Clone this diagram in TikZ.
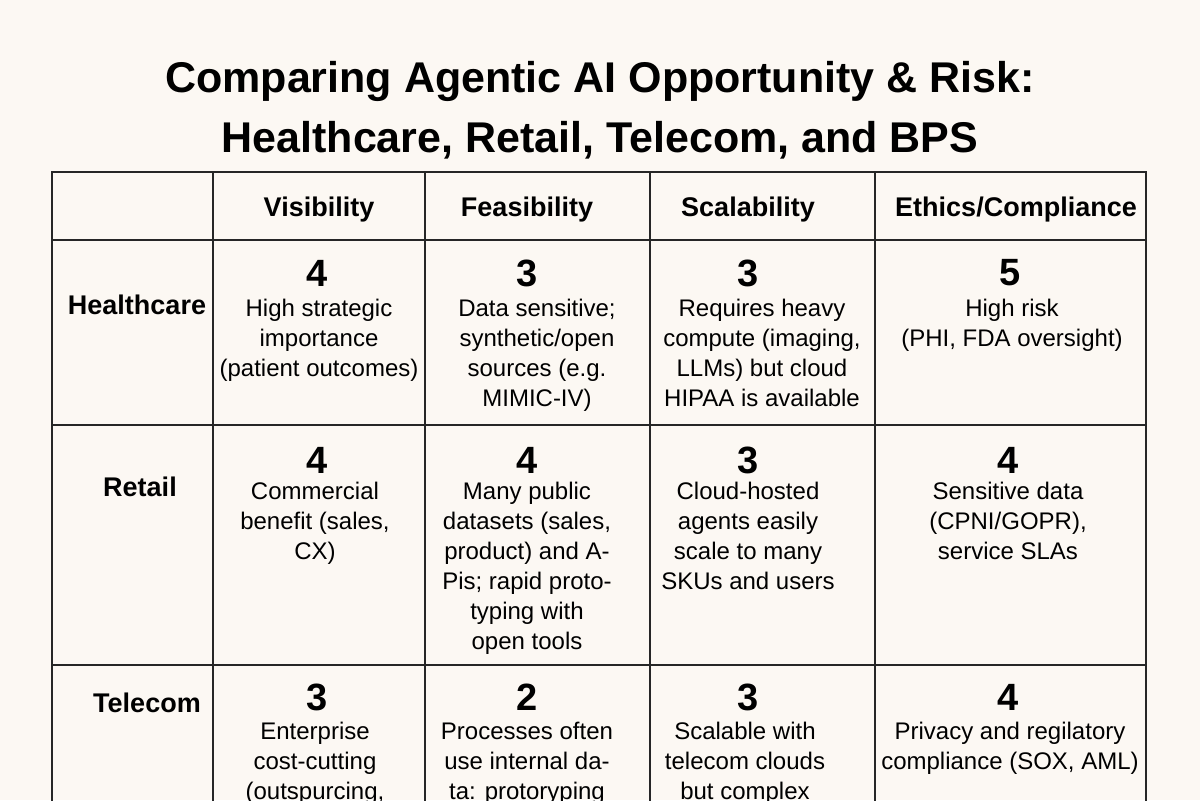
\documentclass[tikz,border=0pt]{standalone}
\usepackage{fontspec}
\setmainfont{Liberation Sans}
\definecolor{paper}{HTML}{FCF8F3}
\begin{document}
\begin{tikzpicture}[x=0.5pt,y=-0.5pt,
%grid lines of the table
gridline/.style={draw=black!85, line width=0.9pt},
%column and row headers
headnode/.style={font=\fontsize{13.5}{16}\selectfont\bfseries},
%score in each cell
scorenode/.style={font=\fontsize{19}{20}\selectfont\bfseries},
%explanation in each cell
cellnode/.style={anchor=north, align=center, inner sep=0pt, font=\fontsize{12}{15}\selectfont},
]
\fill[paper] (0,0) rectangle (1200,800);
\useasboundingbox (0,0) rectangle (1200,800);
\begin{scope}
\clip (0,0) rectangle (1200,800);

\node[font=\fontsize{21.5}{30}\selectfont\bfseries, align=center] (title) at (600,110)
  {Comparing Agentic AI Opportunity \& Risk:\\Healthcare, Retail, Telecom, and BPS};

% Grid
\draw[gridline] (52,172) rectangle (1146,820);
\foreach \x in {213,425,650,875} \draw[gridline] (\x,172) -- (\x,820);
\foreach \y in {240,425,665} \draw[gridline] (52,\y) -- (1146,\y);

% Headers
\node[headnode] (hvis) at (319,210) {Visibility};
\node[headnode] (hfea) at (527,210) {Feasibility};
\node[headnode] (hsca) at (748,210) {Scalability};
\node[headnode] (heth) at (1016,210) {Ethics/Compliance};

\node[headnode] (health) at (137,305) {Healthcare};
\node[headnode] (retail) at (140,487) {Retail};
\node[headnode] (telecom) at (147,703) {Telecom};

% Healthcare
\node[scorenode] (s11) at (317,273) {4};
\node[scorenode] (s12) at (527,273) {3};
\node[scorenode] (s13) at (748,273) {3};
\node[scorenode] (s14) at (1010,273) {5};
\node[cellnode] (t11) at (319,299) {High strategic\\importance\\(patient outcomes)};
\node[cellnode] (t12) at (537,299) {Data sensitive;\\synthetic/open\\sources (e.g.\\MIMIC-IV)};
\node[cellnode] (t13) at (762,299) {Requires heavy\\compute (imaging,\\LLMs) but cloud\\HIPAA is available};
\node[cellnode] (t14) at (1012,299) {High risk\\(PHI, FDA oversight)};

% Retail
\node[scorenode] (s21) at (317,460) {4};
\node[scorenode] (s22) at (527,460) {4};
\node[scorenode] (s23) at (748,460) {3};
\node[scorenode] (s24) at (1008,460) {4};
\node[cellnode] (t21) at (315,482) {Commercial\\benefit (sales,\\CX)};
\node[cellnode] (t22) at (527,482) {Many public\\datasets (sales,\\product) and A-\\Pis; rapid proto-\\typing with\\open tools};
\node[cellnode] (t23) at (748,482) {Cloud-hosted\\agents easily\\scale to many\\SKUs and users};
\node[cellnode] (t24) at (1008,482) {Sensitive data\\(CPNI/GOPR),\\service SLAs};

% Telecom
\node[scorenode] (s31) at (317,697) {3};
\node[scorenode] (s32) at (527,697) {2};
\node[scorenode] (s33) at (748,697) {3};
\node[scorenode] (s34) at (1008,697) {4};
\node[cellnode] (t31) at (315,722) {Enterprise\\cost-cutting\\(outspurcing,};
\node[cellnode] (t32) at (527,722) {Processes often\\use internal da-\\ta: protoryping};
\node[cellnode] (t33) at (745,722) {Scalable with\\telecom clouds\\but complex};
\node[cellnode] (t34) at (1010,722) {Privacy and regilatory\\compliance (SOX, AML)};
\end{scope}
\end{tikzpicture}
\end{document}
